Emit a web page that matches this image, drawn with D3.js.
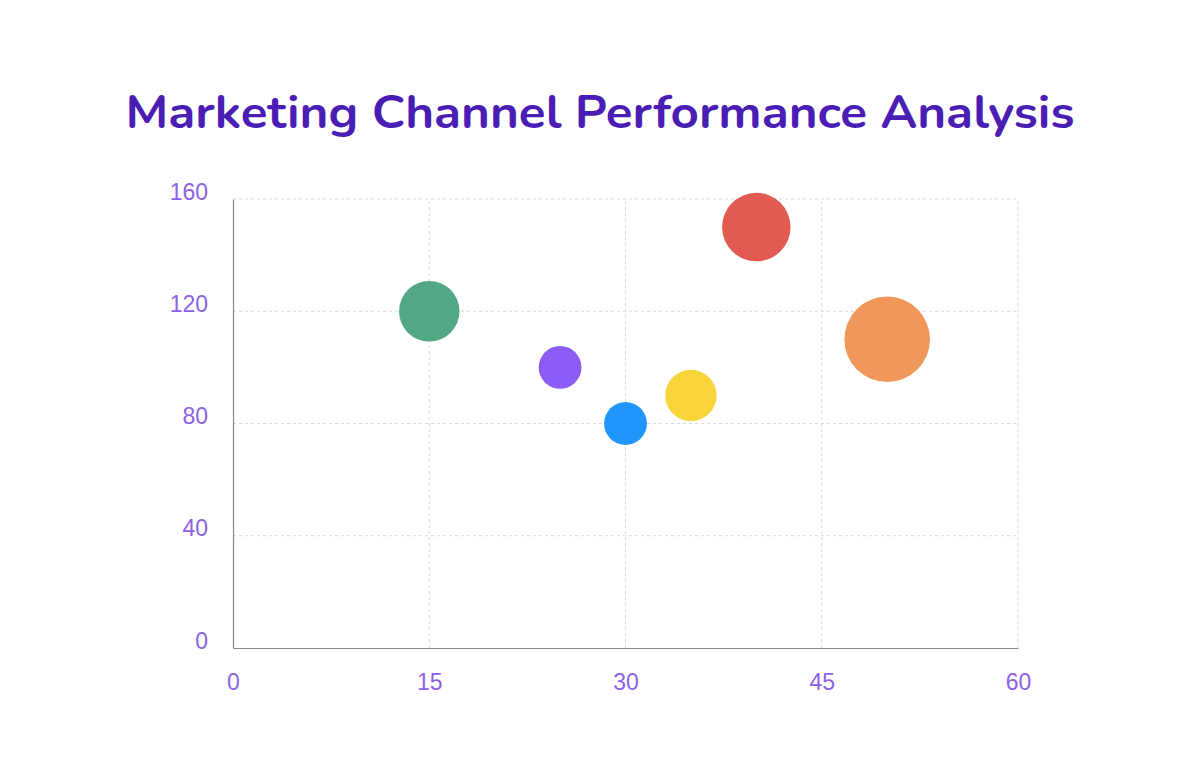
<!DOCTYPE html>
<html>
<head>
<meta charset="utf-8">
<script src="https://cdn.jsdelivr.net/npm/d3@7/dist/d3.min.js"></script>
<style>
  html, body { margin: 0; padding: 0; background: #ffffff; }
  svg { display: block; }
</style>
</head>
<body>
<svg id="chart" width="1200" height="771"></svg>
<script>
// ---- Data ----
const channels = ["Social Media", "Email", "Search Ads", "Content", "Display", "Affiliate"];
const xValues = [15, 25, 30, 35, 40, 50];
const yValues = [120, 100, 80, 90, 150, 110];
const sizeValues = [5000, 2500, 2500, 3600, 6400, 10000];
const colors = ["#52a884", "#8b5cf6", "#1e96fc", "#f9d43a", "#e15b52", "#f0975a"];
const xTicks = [0, 15, 30, 45, 60];
const yTicks = [0, 40, 80, 120, 160];
const titleText = "Marketing Channel Performance Analysis";

const svg = d3.select("#chart");
const margin = { left: 233, right: 182, top: 199, bottom: 123 };
const W = 1200, H = 771;

const x = d3.scaleLinear().domain([0, 60]).range([margin.left, W - margin.right]);
const y = d3.scaleLinear().domain([0, 160]).range([H - margin.bottom, margin.top]);
const r = d3.scaleSqrt().domain([0, 10000]).range([0, 42.8]);

// Title
svg.append("text")
  .attr("x", 600).attr("y", 128)
  .attr("text-anchor", "middle")
  .attr("font-family", "Nunito, 'Noto Sans', sans-serif")
  .attr("font-weight", 700)
  .attr("font-size", 46)
  .attr("fill", "#4a1db5")
  .attr("textLength", 949)
  .attr("lengthAdjust", "spacingAndGlyphs")
  .text(titleText);

// Grid
const grid = svg.append("g");
grid.selectAll("line.gx").data(xTicks.filter(d => d > 0)).enter().append("line")
  .attr("x1", d => x(d)).attr("x2", d => x(d))
  .attr("y1", y(0)).attr("y2", y(160))
  .attr("stroke", "#d9d9d9").attr("stroke-dasharray", "3,3").attr("stroke-width", 1);
grid.selectAll("line.gy").data(yTicks.filter(d => d > 0)).enter().append("line")
  .attr("x1", x(0)).attr("x2", x(60))
  .attr("y1", d => y(d)).attr("y2", d => y(d))
  .attr("stroke", "#d9d9d9").attr("stroke-dasharray", "3,3").attr("stroke-width", 1);

// Axes
const xAxis = d3.axisBottom(x).tickValues(xTicks).tickSize(0).tickPadding(0);
const yAxis = d3.axisLeft(y).tickValues(yTicks).tickSize(0).tickPadding(0);

const gx = svg.append("g").attr("transform", `translate(0,${y(0)})`).call(xAxis);
gx.select(".domain").attr("stroke", "#888").attr("stroke-width", 1.2);
gx.selectAll("text")
  .attr("y", 42).attr("dy", null)
  .attr("font-family", "Arial, 'Liberation Sans', sans-serif")
  .attr("font-size", 23).attr("fill", "#8d62e4");

const gy = svg.append("g").attr("transform", `translate(${x(0)},0)`).call(yAxis);
gy.select(".domain").attr("stroke", "#888").attr("stroke-width", 1.2);
gy.selectAll("text")
  .attr("x", -25).attr("dy", null).attr("y", 0)
  .attr("font-family", "Arial, 'Liberation Sans', sans-serif")
  .attr("font-size", 23).attr("fill", "#8d62e4");

// Bubbles
const data = channels.map((c, i) => ({ name: c, x: xValues[i], y: yValues[i], s: sizeValues[i], color: colors[i] }));
svg.append("g").selectAll("circle").data(data).enter().append("circle")
  .attr("cx", d => x(d.x))
  .attr("cy", d => y(d.y))
  .attr("r", d => r(d.s))
  .attr("fill", d => d.color);
</script>
</body>
</html>
